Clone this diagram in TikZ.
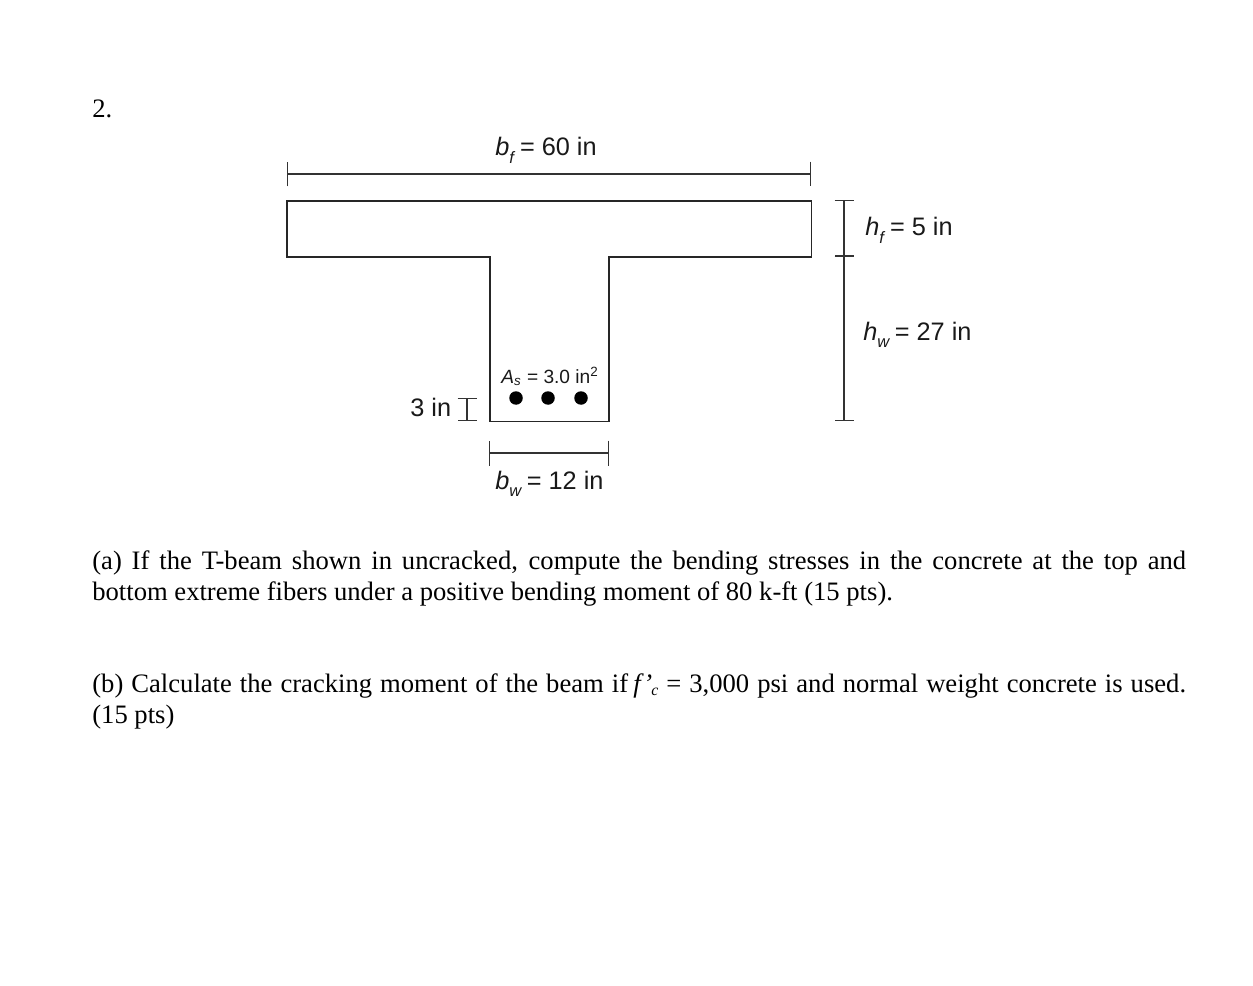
\documentclass[tikz,border=0pt]{standalone}
\usepackage{fontspec}
\setmainfont{Liberation Serif}
\newfontfamily\labelfont{Liberation Sans}
\usetikzlibrary{arrows.meta}
\tikzset{
	prob/.style={inner sep=0pt,anchor=base west,font=\fontsize{15.15}{17.6}\selectfont},
	para/.style={prob,text width=21.88cm,align=justify},
	dimtext/.style={inner sep=0pt,anchor=base west,font=\labelfont\fontsize{14.4}{17}\selectfont,text=black!90},
	smalltext/.style={dimtext,font=\labelfont\fontsize{10.9}{13}\selectfont},
	beam/.style={line width=1.1pt,line join=miter,black!85},
	dimline/.style={line width=.6pt,black!80,{Bar[width=.5cm,line width=.6pt]}-{Bar[width=.5cm,line width=.6pt]}},
	shortdim/.style={line width=.6pt,black!80,{Bar[width=.38cm,line width=.6pt]}-{Bar[width=.38cm,line width=.6pt]}},
	rebar/.style={circle,fill=black,inner sep=0pt,minimum size=.27cm}
}
\newcommand{\sym}[2]{\textit{#1}\lower.55ex\hbox{\fontsize{9.4}{11}\selectfont\textit{#2}}\kern-1.4pt{}}
\begin{document}
\begin{tikzpicture}[x=.02cm,y=-.02cm]
	\useasboundingbox (0,0) rectangle (1253,986);
	\draw[beam] (287,201) -- (811.5,201) -- (811.5,257) -- (609,257) -- (609,421.5) -- (490,421.5) -- (490,257) -- (287,257) -- cycle;

	\draw (516,398) node[rebar] (bar1) {}
		(548,398) node[rebar] (bar2) {}
		(581,398) node[rebar] (bar3) {};

	\coordinate (bfl) at (287,174);
	\coordinate (bfr) at (811,174);
	\coordinate (bwl) at (489,453);
	\coordinate (bwr) at (609,453);
	\coordinate (hft) at (844,200);
	\coordinate (hfb) at (844,256);
	\coordinate (hwb) at (844,421);
	\coordinate (cvt) at (467,398);
	\coordinate (cvb) at (467,421);

	\draw[dimline] (bfl) -- (bfr);
	\draw[dimline] (bwl) -- (bwr);
	\draw[shortdim] (hft) -- (hfb);
	\draw[shortdim] (hfb) -- (hwb);
	\draw[shortdim] (cvt) -- (cvb);

	\draw (495,156) node[dimtext] (bflabel) {\sym{b}{f} = 60 in}
		(865,236) node[dimtext] (hflabel) {\sym{h}{f} = 5 in}
		(863,340) node[dimtext] (hwlabel) {\sym{h}{w} = 27 in}
		(410,416) node[dimtext] (cvlabel) {3 in}
		(495,489) node[dimtext] (bwlabel) {\sym{b}{w} = 12 in}
		(501,383) node[smalltext] (aslabel) {\textit{A}\textsubscript{\textit{s}} = 3.0 in\textsuperscript{2}};

	\draw (92,118) node[prob] (num) {2.}
		(92,569.6) node[para] (parta) {(a) If the T-beam shown in uncracked, compute the bending stresses in the concrete at the top and\linebreak bottom extreme fibers under a positive bending moment of 80 k-ft (15 pts).}
		(92,692.3) node[para] (partb) {(b) Calculate the cracking moment of the beam if\kern-1.5pt{} \textit{f’\kern-.5pt\lower.3ex\hbox{\fontsize{9}{11}\selectfont c}} = 3,000 psi and normal weight concrete is used. (15 pts)};
\end{tikzpicture}
\end{document}
